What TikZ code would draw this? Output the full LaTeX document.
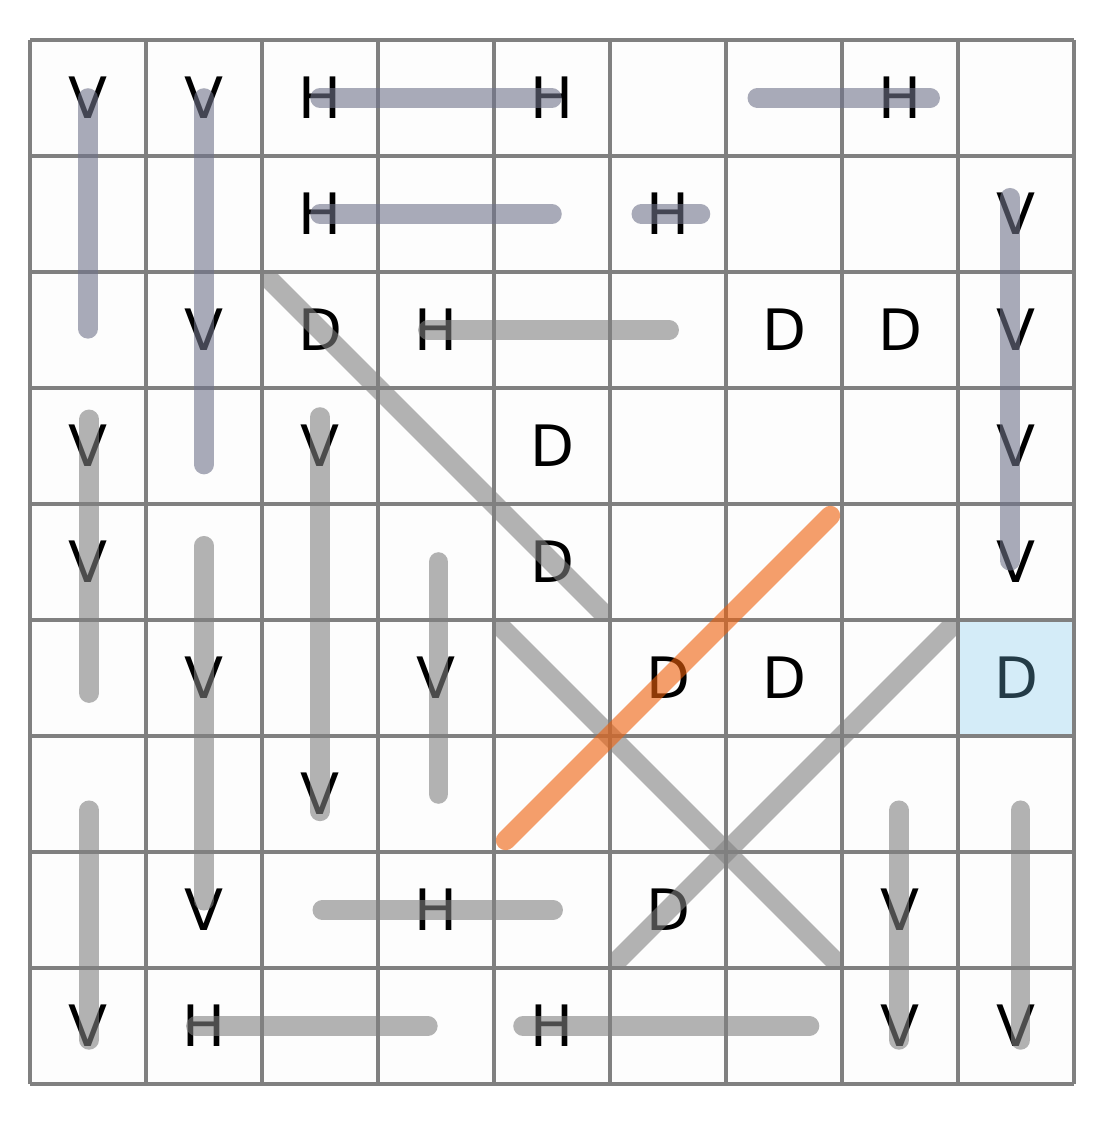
\documentclass[tikz,border=0pt]{standalone}
\usepackage{fontspec}
\setmainfont{DejaVu Sans}

\definecolor{gridgray}{RGB}{128,128,128}
\definecolor{cellbg}{RGB}{253,253,253}
\definecolor{slate}{RGB}{112,115,138}
\definecolor{trailgray}{RGB}{128,128,128}
\definecolor{pathorange}{RGB}{238,95,10}
\definecolor{hiblue}{RGB}{118,198,238}

\begin{document}
\begin{tikzpicture}[x=1cm,y=-1cm,
        letter/.style={inner sep=0pt,font=\fontsize{14}{14}\selectfont},
        run/.style={line width=4.8pt,line cap=round,opacity=0.6},
        slaterun/.style={run,draw=slate},
        grayrun/.style={run,draw=trailgray},
        orangerun/.style={run,draw=pathorange}]
        \useasboundingbox (-0.2586,-0.3448) rectangle (9.2845,9.431);
        \fill[cellbg] (0,0) rectangle (9,9);

        % letters, row by row
        \node[letter] (r0c0) at (0.5,0.5) {V};
        \node[letter] (r0c1) at (1.5,0.5) {V};
        \node[letter] (r0c2) at (2.5,0.5) {H};
        \node[letter] (r0c4) at (4.5,0.5) {H};
        \node[letter] (r0c7) at (7.5,0.5) {H};
        \node[letter] (r1c2) at (2.5,1.5) {H};
        \node[letter] (r1c5) at (5.5,1.5) {H};
        \node[letter] (r1c8) at (8.5,1.5) {V};
        \node[letter] (r2c1) at (1.5,2.5) {V};
        \node[letter] (r2c2) at (2.5,2.5) {D};
        \node[letter] (r2c3) at (3.5,2.5) {H};
        \node[letter] (r2c6) at (6.5,2.5) {D};
        \node[letter] (r2c7) at (7.5,2.5) {D};
        \node[letter] (r2c8) at (8.5,2.5) {V};
        \node[letter] (r3c0) at (0.5,3.5) {V};
        \node[letter] (r3c2) at (2.5,3.5) {V};
        \node[letter] (r3c4) at (4.5,3.5) {D};
        \node[letter] (r3c8) at (8.5,3.5) {V};
        \node[letter] (r4c0) at (0.5,4.5) {V};
        \node[letter] (r4c4) at (4.5,4.5) {D};
        \node[letter] (r4c8) at (8.5,4.5) {V};
        \node[letter] (r5c1) at (1.5,5.5) {V};
        \node[letter] (r5c3) at (3.5,5.5) {V};
        \node[letter] (r5c5) at (5.5,5.5) {D};
        \node[letter] (r5c6) at (6.5,5.5) {D};
        \node[letter] (r5c8) at (8.5,5.5) {D};
        \node[letter] (r6c2) at (2.5,6.5) {V};
        \node[letter] (r7c1) at (1.5,7.5) {V};
        \node[letter] (r7c3) at (3.5,7.5) {H};
        \node[letter] (r7c5) at (5.5,7.5) {D};
        \node[letter] (r7c7) at (7.5,7.5) {V};
        \node[letter] (r8c0) at (0.5,8.5) {V};
        \node[letter] (r8c1) at (1.5,8.5) {H};
        \node[letter] (r8c4) at (4.5,8.5) {H};
        \node[letter] (r8c7) at (7.5,8.5) {V};
        \node[letter] (r8c8) at (8.5,8.5) {V};

        % highlighted cell
        \fill[hiblue,opacity=0.3] (8,5) rectangle (9,6);

        \draw[gridgray,line width=1.05pt] (0,0) grid (9,9);

        % slate runs
        \draw[slaterun] (0.5,0.5) -- (0.5,2.49);
        \draw[slaterun] (1.5,0.5) -- (1.5,3.66);
        \draw[slaterun] (2.5,0.5) -- (4.5,0.5);
        \draw[slaterun] (6.27,0.5) -- (7.76,0.5);
        \draw[slaterun] (2.5,1.5) -- (4.5,1.5);
        \draw[slaterun] (5.27,1.5) -- (5.78,1.5);
        \draw[slaterun] (8.45,1.36) -- (8.45,4.49);

        % gray runs
        \draw[grayrun] (3.43,2.5) -- (5.51,2.5);
        \draw[grayrun] (0.51,3.27) -- (0.51,5.63);
        \draw[grayrun] (2.5,3.25) -- (2.5,6.65);
        \draw[grayrun] (1.5,4.36) -- (1.5,7.42);
        \draw[grayrun] (3.52,4.5) -- (3.52,6.5);
        \draw[grayrun] (0.51,6.64) -- (0.51,8.62);
        \draw[grayrun] (2.52,7.5) -- (4.51,7.5);
        \draw[grayrun] (1.43,8.5) -- (3.43,8.5);
        \draw[grayrun] (4.25,8.5) -- (6.72,8.5);
        \draw[grayrun] (7.49,6.64) -- (7.49,8.62);
        \draw[grayrun] (8.54,6.64) -- (8.54,8.62);

        % diagonals, cut to their block
        \begin{scope}
            \clip (2,2) rectangle (5,5);
            \draw[grayrun] (2,2) -- (5,5);
        \end{scope}
        \begin{scope}
            \clip (4,5) rectangle (7,8);
            \draw[grayrun] (4,5) -- (7,8);
        \end{scope}
        \begin{scope}
            \clip (5,5) rectangle (8,8);
            \draw[grayrun] (8,5) -- (5,8);
        \end{scope}

        \draw[orangerun] (6.9,4.1) -- (4.1,6.9);
    \end{tikzpicture}
\end{document}
